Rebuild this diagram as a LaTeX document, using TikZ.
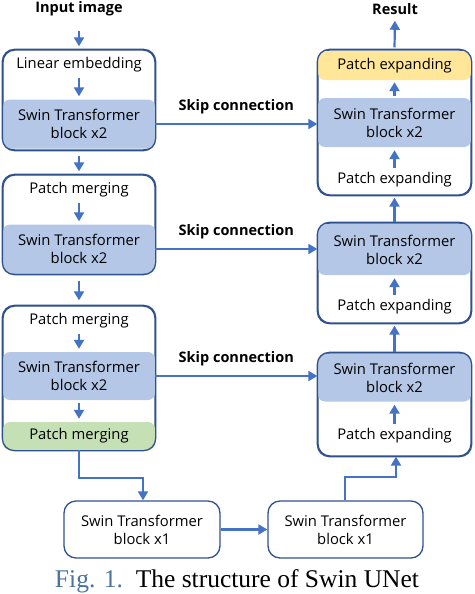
\documentclass[tikz,border=0pt]{standalone}
\usepackage{fontspec}
\setmainfont{Open Sans}
\newfontfamily\capfont{Liberation Serif}
\usetikzlibrary{arrows.meta}
\definecolor{bordc}{RGB}{47,82,143}
\definecolor{arrc}{RGB}{68,114,196}
\definecolor{swinc}{RGB}{180,199,231}
\definecolor{yelc}{RGB}{255,230,153}
\definecolor{grnc}{RGB}{197,224,180}
\definecolor{figc}{RGB}{75,115,160}
\begin{document}
\begin{tikzpicture}[x=1pt,y=-1pt,
  outer/.style={draw=bordc,line width=1.3pt,rounded corners=12pt,minimum width=152pt,inner sep=0pt},
  blk/.style={rounded corners=7pt,minimum width=152pt,inner sep=0pt,align=center,font=\fontsize{14.8}{18}\selectfont},
  lbl/.style={font=\fontsize{14.8}{18}\selectfont,inner sep=0pt},
  blbl/.style={font=\bfseries\fontsize{14.5}{17}\selectfont,inner sep=0pt},
  arr/.style={draw=arrc,line width=2.2pt,-{Triangle[width=10pt,length=9pt]}},
]
\useasboundingbox (0,0) rectangle (474,594);
% titles
\node[blbl] (inp) at (79,9) {Input image};
\node[blbl] (res) at (395,9) {Result};
% left column
\node[outer,minimum height=100pt] (L1) at (79,100) {};
\node[outer,minimum height=99pt] (L2) at (79,224.5) {};
\node[outer,minimum height=144pt] (L3) at (79,378) {};
\node[blk,fill=swinc,minimum height=49pt] (L1s) at (79,124) {Swin Transformer\\block x2};
\node[blk,fill=swinc,minimum height=49pt] (L2s) at (79,249) {Swin Transformer\\block x2};
\node[blk,fill=swinc,minimum height=48pt] (L3s) at (79,376) {Swin Transformer\\block x2};
\node[blk,fill=grnc,minimum height=28pt] (L3g) at (79,436) {Patch merging};
\draw[outer,fill=none] (L1.south west) rectangle (L1.north east);
\draw[outer,fill=none] (L2.south west) rectangle (L2.north east);
\draw[outer,fill=none] (L3.south west) rectangle (L3.north east);
\node[lbl] (L1t) at (79,65) {Linear embedding};
\node[lbl] (L2t) at (79,190) {Patch merging};
\node[lbl] (L3t) at (79,321) {Patch merging};
% right column
\node[outer,minimum height=145pt,minimum width=153pt] (R1) at (394.5,122.5) {};
\node[outer,minimum height=100pt,minimum width=153pt] (R2) at (394.5,273) {};
\node[outer,minimum height=103pt,minimum width=153pt] (R3) at (394.5,404.5) {};
\node[blk,fill=yelc,minimum height=29pt,minimum width=153pt] (R1y) at (394.5,65.5) {Patch expanding};
\node[blk,fill=swinc,minimum height=49pt,minimum width=153pt] (R1s) at (394.5,122.5) {Swin Transformer\\block x2};
\node[blk,fill=swinc,minimum height=51pt,minimum width=153pt] (R2s) at (394.5,249.5) {Swin Transformer\\block x2};
\node[blk,fill=swinc,minimum height=48pt,minimum width=153pt] (R3s) at (394.5,377.5) {Swin Transformer\\block x2};
\draw[outer,fill=none] (R1.south west) rectangle (R1.north east);
\draw[outer,fill=none] (R2.south west) rectangle (R2.north east);
\draw[outer,fill=none] (R3.south west) rectangle (R3.north east);
\node[lbl] (R1t) at (394.5,180) {Patch expanding};
\node[lbl] (R2t) at (394.5,307) {Patch expanding};
\node[lbl] (R3t) at (394.5,436) {Patch expanding};
% bottom
\node[outer,minimum width=156pt,minimum height=57pt,align=center,font=\fontsize{14.8}{18}\selectfont] (B1) at (142,529.5) {Swin Transformer\\block x1};
\node[outer,minimum width=155pt,minimum height=57pt,align=center,font=\fontsize{14.8}{18}\selectfont] (B2) at (345.5,529.5) {Swin Transformer\\block x1};
% arrows left
\draw[arr,shorten <=15pt,shorten >=3pt] (inp.south) -- (L1.north);
\draw[arr,shorten <=5pt,shorten >=3pt] (L1t.south) -- (L1s.north);
\draw[arr,shorten <=5pt,shorten >=3pt] (L1.south) -- (L2.north);
\draw[arr,shorten <=5pt,shorten >=3pt] (L2t.south) -- (L2s.north);
\draw[arr,shorten <=6pt,shorten >=5pt] (L2.south) -- (L3.north);
\draw[arr,shorten <=5pt,shorten >=3pt] (L3t.south) -- (L3s.north);
\draw[arr,shorten <=3pt,shorten >=3pt] (L3s.south) -- (L3g.north);
\coordinate (c1) at (79,478);
\coordinate (c2) at (143,478);
\draw[arr] (L3g.south) -- (c1) -- (c2) -- (c2 |- B1.north);
\draw[arr] (B1.east) -- (B2.west);
\coordinate (c3) at (345,477);
\coordinate (c4) at (396,477);
\draw[arr] (c3 |- B2.north) -- (c3) -- (c4) -- (c4 |- R3.south);
% arrows right
\draw[arr,shorten <=4pt,shorten >=3pt] (R3t.north) -- (R3s.south);
\draw[arr,shorten >=2pt] (R3.north) -- (R2.south);
\draw[arr,shorten <=4pt,shorten >=3pt] (R2t.north) -- (R2s.south);
\draw[arr,shorten >=2pt] (R2.north) -- (R1.south);
\draw[arr,shorten <=4pt,shorten >=3pt] (R1t.north) -- (R1s.south);
\draw[arr,shorten <=2pt,shorten >=2pt] (R1s.north) -- (R1y.south);
\draw[arr,shorten <=2pt,shorten >=6pt] (R1.north) -- (res.south);
% skip connections
\draw[arr] (L1s.east) -- node[blbl,above=9pt] (sk1) {Skip connection} (L1s.east -| R1.west);
\draw[arr] (L2s.east) -- node[blbl,above=9pt] (sk2) {Skip connection} (L2s.east -| R2.west);
\draw[arr] (L3s.east) -- node[blbl,above=9pt] (sk3) {Skip connection} (L3s.east -| R3.west);
% caption
\node[font=\capfont\fontsize{25.5}{28}\selectfont,inner sep=0pt,anchor=base] (cap) at (237,587) {\textcolor{figc}{Fig. 1.}\ \ The structure of Swin UNet};
\end{tikzpicture}
\end{document}
